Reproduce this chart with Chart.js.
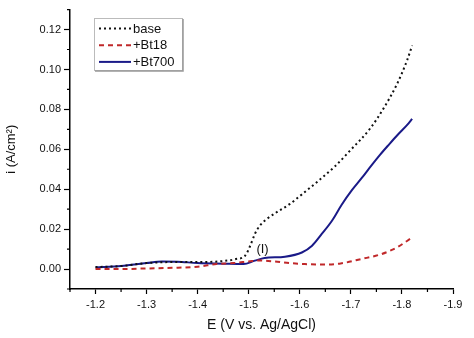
<!DOCTYPE html>
<html>
<head>
<meta charset="utf-8">
<script src="https://cdn.jsdelivr.net/npm/chart.js@4/dist/chart.umd.min.js"></script>
<style>
html,body{margin:0;padding:0;background:#fff;}
#wrap{width:474px;height:338px;position:relative;}
</style>
</head>
<body>
<div id="wrap"><canvas id="c" width="474" height="338"></canvas></div>
<script>
// ---- data ----
const seriesNames = ['base', '+Bt18', '+Bt700'];

const baseE = [-1.20, -1.25, -1.30, -1.35, -1.40, -1.45, -1.475, -1.493, -1.503, -1.512, -1.522, -1.535, -1.555, -1.580, -1.604, -1.636, -1.669, -1.699, -1.738, -1.764, -1.790, -1.810, -1.820];
const baseI = [0.001, 0.0015, 0.003, 0.0035, 0.0035, 0.004, 0.005, 0.0067, 0.0117, 0.0176, 0.0218, 0.0250, 0.0285, 0.0325, 0.0374, 0.0441, 0.0515, 0.0595, 0.0705, 0.0805, 0.0925, 0.1045, 0.112];

const bt18E = [-1.20, -1.25, -1.30, -1.35, -1.40, -1.437, -1.47, -1.50, -1.52, -1.55, -1.58, -1.61, -1.65, -1.68, -1.72, -1.76, -1.79, -1.82];
const bt18I = [0.0, 0.0, 0.0003, 0.0006, 0.0012, 0.0025, 0.003, 0.0038, 0.0043, 0.0038, 0.003, 0.0025, 0.0023, 0.0028, 0.005, 0.0075, 0.0108, 0.0158];

const bt700E = [-1.20, -1.25, -1.30, -1.33, -1.36, -1.40, -1.45, -1.49, -1.512, -1.531, -1.571, -1.604, -1.624, -1.643, -1.663, -1.682, -1.702, -1.721, -1.740, -1.757, -1.775, -1.790, -1.813, -1.820];
const bt700I = [0.0008, 0.0015, 0.003, 0.0038, 0.0037, 0.003, 0.0027, 0.0025, 0.0042, 0.0055, 0.0062, 0.0083, 0.0117, 0.0176, 0.0242, 0.0322, 0.0395, 0.0455, 0.0518, 0.0572, 0.0625, 0.0668, 0.0730, 0.0752];

const xTicks = [-1.2, -1.3, -1.4, -1.5, -1.6, -1.7, -1.8, -1.9];
const xMinor = [-1.15, -1.25, -1.35, -1.45, -1.55, -1.65, -1.75, -1.85];
const yTicks = [0.00, 0.02, 0.04, 0.06, 0.08, 0.10, 0.12];
const yMinor = [-0.01, 0.01, 0.03, 0.05, 0.07, 0.09, 0.11, 0.13];

const annotation = {text: '(I)', x: -1.527, y: 0.010};

const toXY = (xs, ys) => xs.map((x, i) => ({x: x, y: ys[i]}));

const FONT = "'Liberation Sans', Arial, sans-serif";

const minorTicks = {
  id: 'minorTicks',
  afterDraw(chart) {
    const ctx = chart.ctx;
    const xs = chart.scales.x, ys = chart.scales.y;
    ctx.save();
    ctx.strokeStyle = '#000';
    ctx.lineWidth = 1.2;
    ctx.beginPath();
    xMinor.forEach(v => {
      const px = xs.getPixelForValue(v);
      ctx.moveTo(px, ys.bottom);
      ctx.lineTo(px, ys.bottom + 3);
    });
    yMinor.forEach(v => {
      const py = ys.getPixelForValue(v);
      ctx.moveTo(xs.left, py);
      ctx.lineTo(xs.left - 3, py);
    });
    ctx.stroke();
    // annotation
    ctx.fillStyle = '#111';
    ctx.font = '13px ' + FONT;
    ctx.textAlign = 'center';
    ctx.textBaseline = 'middle';
    ctx.fillText(annotation.text, xs.getPixelForValue(annotation.x), ys.getPixelForValue(annotation.y));
    ctx.restore();
  }
};

const boxLegend = {
  id: 'boxLegend',
  afterDraw(chart) {
    const ctx = chart.ctx;
    const x0 = 94, y0 = 18, w = 88, h = 52;
    ctx.save();
    ctx.fillStyle = '#fff';
    ctx.fillRect(x0, y0, w, h);
    ctx.strokeStyle = '#bbb';
    ctx.lineWidth = 1;
    ctx.strokeRect(x0 + 0.5, y0 + 0.5, w, h);
    ctx.strokeStyle = '#999';
    ctx.lineWidth = 1.5;
    ctx.beginPath();
    ctx.moveTo(x0 + 1, y0 + h + 1);
    ctx.lineTo(x0 + w + 1, y0 + h + 1);
    ctx.lineTo(x0 + w + 1, y0 + 1);
    ctx.stroke();
    ctx.font = '13px ' + FONT;
    ctx.textBaseline = 'middle';
    ctx.textAlign = 'left';
    chart.data.datasets.forEach((ds, i) => {
      const cy = 28.5 + i * 16.7;
      ctx.strokeStyle = ds.borderColor;
      ctx.lineWidth = ds.borderWidth;
      ctx.setLineDash(ds.borderDash || []);
      ctx.beginPath();
      ctx.moveTo(99, cy);
      ctx.lineTo(131, cy);
      ctx.stroke();
      ctx.setLineDash([]);
      ctx.fillStyle = '#111';
      ctx.fillText(ds.label, 133, cy + 0.5);
    });
    ctx.restore();
  }
};

new Chart(document.getElementById('c'), {
  type: 'line',
  data: {
    datasets: [
      {label: seriesNames[0], data: toXY(baseE, baseI), borderColor: '#111111', borderWidth: 2, borderDash: [2, 3], pointRadius: 0, fill: false, cubicInterpolationMode: 'monotone'},
      {label: seriesNames[1], data: toXY(bt18E, bt18I), borderColor: '#c0282a', borderWidth: 2, borderDash: [5, 4], pointRadius: 0, fill: false, cubicInterpolationMode: 'monotone'},
      {label: seriesNames[2], data: toXY(bt700E, bt700I), borderColor: '#1a1a88', borderWidth: 2, pointRadius: 0, fill: false, cubicInterpolationMode: 'monotone'}
    ]
  },
  options: {
    responsive: false,
    animation: false,
    events: [],
    layout: {padding: {top: 9, right: 21, left: 0, bottom: 0}},
    plugins: {legend: {display: false}, tooltip: {enabled: false}},
    scales: {
      x: {
        type: 'linear',
        reverse: true,
        min: -1.9,
        max: -1.15,
        afterBuildTicks: s => { s.ticks = xTicks.map(v => ({value: v})); },
        afterFit: s => { s.height = 49; },
        grid: {drawOnChartArea: false, drawTicks: true, tickLength: 5, tickColor: '#000', tickWidth: 1.2},
        border: {display: true, color: '#000', width: 1.5},
        ticks: {color: '#111', font: {family: FONT, size: 11}, padding: 4, maxRotation: 0, callback: v => v.toFixed(1)},
        title: {display: true, text: 'E (V vs. Ag/AgCl)', color: '#111', font: {family: FONT, size: 14}, padding: {top: 0, bottom: 4}}
      },
      y: {
        type: 'linear',
        min: -0.01,
        max: 0.13,
        afterBuildTicks: s => { s.ticks = yTicks.map(v => ({value: v})); },
        afterFit: s => { s.width = 70; },
        grid: {drawOnChartArea: false, drawTicks: true, tickLength: 6, tickColor: '#000', tickWidth: 1.2},
        border: {display: true, color: '#000', width: 1.5},
        ticks: {color: '#111', font: {family: FONT, size: 11}, padding: 3, callback: v => v.toFixed(2)},
        title: {display: true, text: 'i (A/cm²)', color: '#111', font: {family: FONT, size: 13}, padding: {top: 4, bottom: 0}}
      }
    }
  },
  plugins: [minorTicks, boxLegend]
});
</script>
</body>
</html>
